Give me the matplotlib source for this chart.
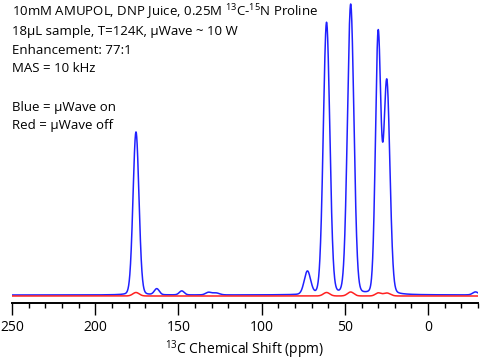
import numpy as np
import matplotlib
matplotlib.use("Agg")
import matplotlib.pyplot as plt
from matplotlib.ticker import MultipleLocator

plt.rcParams['font.family'] = ['Open Sans', 'DejaVu Sans']
plt.rcParams['mathtext.default'] = 'regular'

# peak positions (ppm), heights and widths (FWHM, ppm)
on_pos = [175.5, 163.0, 148.0, 132.0, 127.5, 72.5, 61.0, 46.5, 30.0, 24.8, -28.5]
on_height = [163, 6, 4, 2.5, 2.0, 23, 272, 290, 258, 212, 3]
on_width = [4.2, 3.5, 3.5, 4.0, 5.0, 4.5, 4.6, 4.6, 3.8, 4.4, 4.0]

off_pos = [175.5, 61.0, 46.5, 30.0, 24.8]
off_height = [3.5, 3.5, 4.0, 3.0, 3.0]
off_width = [4.5, 4.5, 4.5, 4.0, 5.0]

notes = [
    "10mM AMUPOL, DNP Juice, 0.25M $^{13}$C-$^{15}$N Proline",
    "18\u03bcL sample, T=124K, \u03bcWave ~ 10 W",
    "Enhancement: 77:1",
    "MAS = 10 kHz",
    "",
    "Blue = \u03bcWave on",
    "Red = \u03bcWave off",
]


def spectrum(ppm, pos, height, width, mix=0.08):
    y = np.zeros_like(ppm)
    for p, h, w in zip(pos, height, width):
        d = ppm - p
        gauss = np.exp(-4 * np.log(2) * d ** 2 / w ** 2)
        lor = (w / 2) ** 2 / (d ** 2 + (w / 2) ** 2)
        y += h * ((1 - mix) * gauss + mix * lor)
    return y


ppm = np.linspace(250, -30, 4000)
blue = spectrum(ppm, on_pos, on_height, on_width) + 1.0
red = spectrum(ppm, off_pos, off_height, off_width)

fig = plt.figure(figsize=(4.8, 3.61), dpi=100)
ax = fig.add_axes([12 / 480, 1 - 303 / 361, 466 / 480, 303 / 361])

ax.plot(ppm, blue, color="#2020ff", lw=1.1)
ax.plot(ppm, red, color="#ff2020", lw=1.1)

ax.set_xlim(250, -30)
ax.set_ylim(-7, 296)

for s in ["top", "left", "right"]:
    ax.spines[s].set_visible(False)
ax.spines["bottom"].set_linewidth(1.4)
ax.set_yticks([])
ax.xaxis.set_major_locator(MultipleLocator(50))
ax.xaxis.set_minor_locator(MultipleLocator(10))
ax.tick_params(axis="x", which="major", length=8.5, width=1.0, pad=4,
               labelsize=10, direction="out")
ax.tick_params(axis="x", which="minor", length=3.8, width=1.0, direction="out")
ax.set_xlabel("$^{13}$C Chemical Shift (ppm)", fontsize=10, labelpad=2)

for i, line in enumerate(notes):
    fig.text(12 / 480, 1 - (12 + 19 * i) / 361, line, fontsize=9.5,
             va="center", ha="left")

fig.savefig("out.png", dpi=100)
